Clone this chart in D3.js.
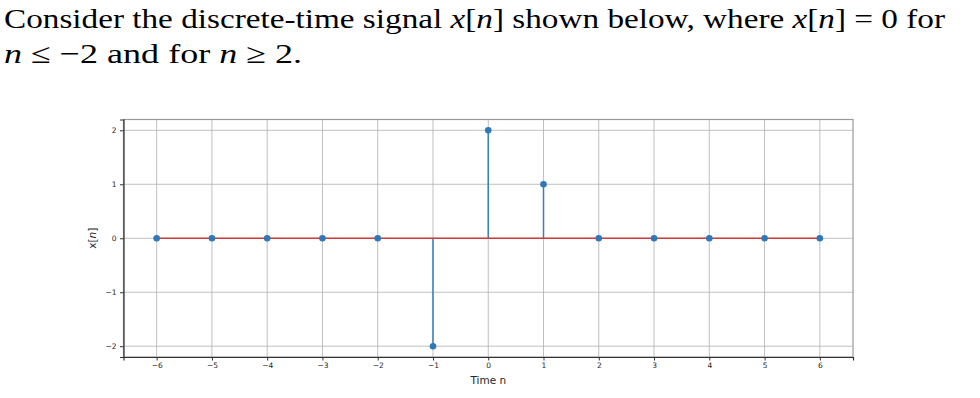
<!DOCTYPE html>
<html>
<head>
<meta charset="utf-8">
<script src="https://cdn.jsdelivr.net/npm/d3@7"></script>
<style>
  body { margin: 0; background: #fff; }
  svg { display: block; }
  .heading { font-family: "Liberation Serif", "Times New Roman", "DejaVu Serif", serif; font-size: 28px; fill: #000; }
  .tick text { font-family: "DejaVu Sans", sans-serif; font-size: 7.5px; fill: #262626; }
  .tick line { stroke: #333; }
  .grid line { stroke: #b0b0b0; stroke-width: 0.8; }
</style>
</head>
<body>
<script>
// signal data
var samples = [-6, -5, -4, -3, -2, -1, 0, 1, 2, 3, 4, 5, 6];
var values = [0, 0, 0, 0, 0, -2, 2, 1, 0, 0, 0, 0, 0];
var xTicks = [-6, -5, -4, -3, -2, -1, 0, 1, 2, 3, 4, 5, 6];
var yTicks = [-2, -1, 0, 1, 2];

var W = 980, H = 398;
var plot = { left: 123.5, right: 853, top: 119.5, bottom: 357 };

var svg = d3.select("body").append("svg")
    .attr("width", W)
    .attr("height", H);

// heading text (question)
var heading = svg.append("g").attr("class", "heading");

var line1 = heading.append("text")
    .attr("x", 4).attr("y", 28);
line1.append("tspan").text("Consider the discrete-time signal ");
line1.append("tspan").style("font-style", "italic").text("x");
line1.append("tspan").text("[");
line1.append("tspan").style("font-style", "italic").text("n");
line1.append("tspan").text("] shown below, where ");
line1.append("tspan").style("font-style", "italic").text("x");
line1.append("tspan").text("[");
line1.append("tspan").style("font-style", "italic").text("n");
line1.append("tspan").text("] = 0 for");

var line2 = heading.append("text")
    .attr("x", 4).attr("y", 63);
line2.append("tspan").style("font-style", "italic").text("n");
line2.append("tspan").text(" \u2264 \u22122 and for ");
line2.append("tspan").style("font-style", "italic").text("n");
line2.append("tspan").text(" \u2265 2.");

// stretch lines to the widths seen in the picture
[[line1, 941], [line2, 298]].forEach(function (p) {
    var w = p[0].node().getComputedTextLength();
    if (Math.abs(w - p[1]) > 2) {
        p[0].attr("textLength", p[1]).attr("lengthAdjust", "spacingAndGlyphs");
    }
});

var xScale = d3.scaleLinear()
    .domain([-6.6, 6.6])
    .range([plot.left, plot.right]);

var yScale = d3.scaleLinear()
    .domain([-2.2, 2.2])
    .range([plot.bottom, plot.top]);

var fmt = function (d) { return d < 0 ? "\u2212" + Math.abs(d) : String(d); };

// grid
svg.append("g")
    .attr("class", "grid")
    .selectAll("line.v")
    .data(xTicks)
    .enter().append("line")
    .attr("x1", function (d) { return xScale(d); })
    .attr("x2", function (d) { return xScale(d); })
    .attr("y1", plot.top)
    .attr("y2", plot.bottom);

svg.append("g")
    .attr("class", "grid")
    .selectAll("line.h")
    .data(yTicks)
    .enter().append("line")
    .attr("x1", plot.left)
    .attr("x2", plot.right)
    .attr("y1", function (d) { return yScale(d); })
    .attr("y2", function (d) { return yScale(d); });

// stems
svg.append("g")
    .selectAll("line")
    .data(samples)
    .enter().append("line")
    .attr("x1", function (d) { return xScale(d); })
    .attr("x2", function (d) { return xScale(d); })
    .attr("y1", yScale(0))
    .attr("y2", function (d, i) { return yScale(values[i]); })
    .attr("stroke", "#3a7fb8")
    .attr("stroke-width", 1.5);

// baseline
svg.append("line")
    .attr("x1", xScale(d3.min(samples)))
    .attr("x2", xScale(d3.max(samples)))
    .attr("y1", yScale(0))
    .attr("y2", yScale(0))
    .attr("stroke", "#d03b3b")
    .attr("stroke-width", 1.5);

// markers
svg.append("g")
    .selectAll("circle")
    .data(samples)
    .enter().append("circle")
    .attr("cx", function (d) { return xScale(d); })
    .attr("cy", function (d, i) { return yScale(values[i]); })
    .attr("r", 3.3)
    .attr("fill", "#2f78b8");

// frame
svg.append("rect")
    .attr("x", plot.left).attr("y", plot.top)
    .attr("width", plot.right - plot.left)
    .attr("height", plot.bottom - plot.top)
    .attr("fill", "none")
    .attr("stroke", "#999")
    .attr("stroke-width", 1.2);

// axes
var xAxis = svg.append("g")
    .attr("transform", "translate(0," + plot.bottom + ")")
    .call(d3.axisBottom(xScale).tickValues(xTicks).tickFormat(fmt).tickSize(3.5).tickPadding(2.5));
xAxis.select(".domain").attr("stroke", "#333").attr("stroke-width", 1.2);

var yAxis = svg.append("g")
    .attr("transform", "translate(" + plot.left + ",0)")
    .call(d3.axisLeft(yScale).tickValues(yTicks).tickFormat(fmt).tickSize(3.5).tickPadding(3.5));
yAxis.select(".domain").attr("stroke", "#333").attr("stroke-width", 1.2);

// axis labels
svg.append("text")
    .attr("x", (plot.left + plot.right) / 2)
    .attr("y", 384)
    .attr("text-anchor", "middle")
    .style("font-family", "'DejaVu Sans', sans-serif")
    .style("font-size", "10.5px")
    .style("fill", "#262626")
    .text("Time n");

var yLabel = svg.append("text")
    .attr("transform", "translate(96," + ((plot.top + plot.bottom) / 2) + ") rotate(-90)")
    .attr("text-anchor", "middle")
    .style("font-family", "'DejaVu Sans', sans-serif")
    .style("font-size", "10.5px")
    .style("fill", "#262626");
yLabel.append("tspan").text("x[");
yLabel.append("tspan").style("font-style", "italic").text("n");
yLabel.append("tspan").text("]");
</script>
</body>
</html>
